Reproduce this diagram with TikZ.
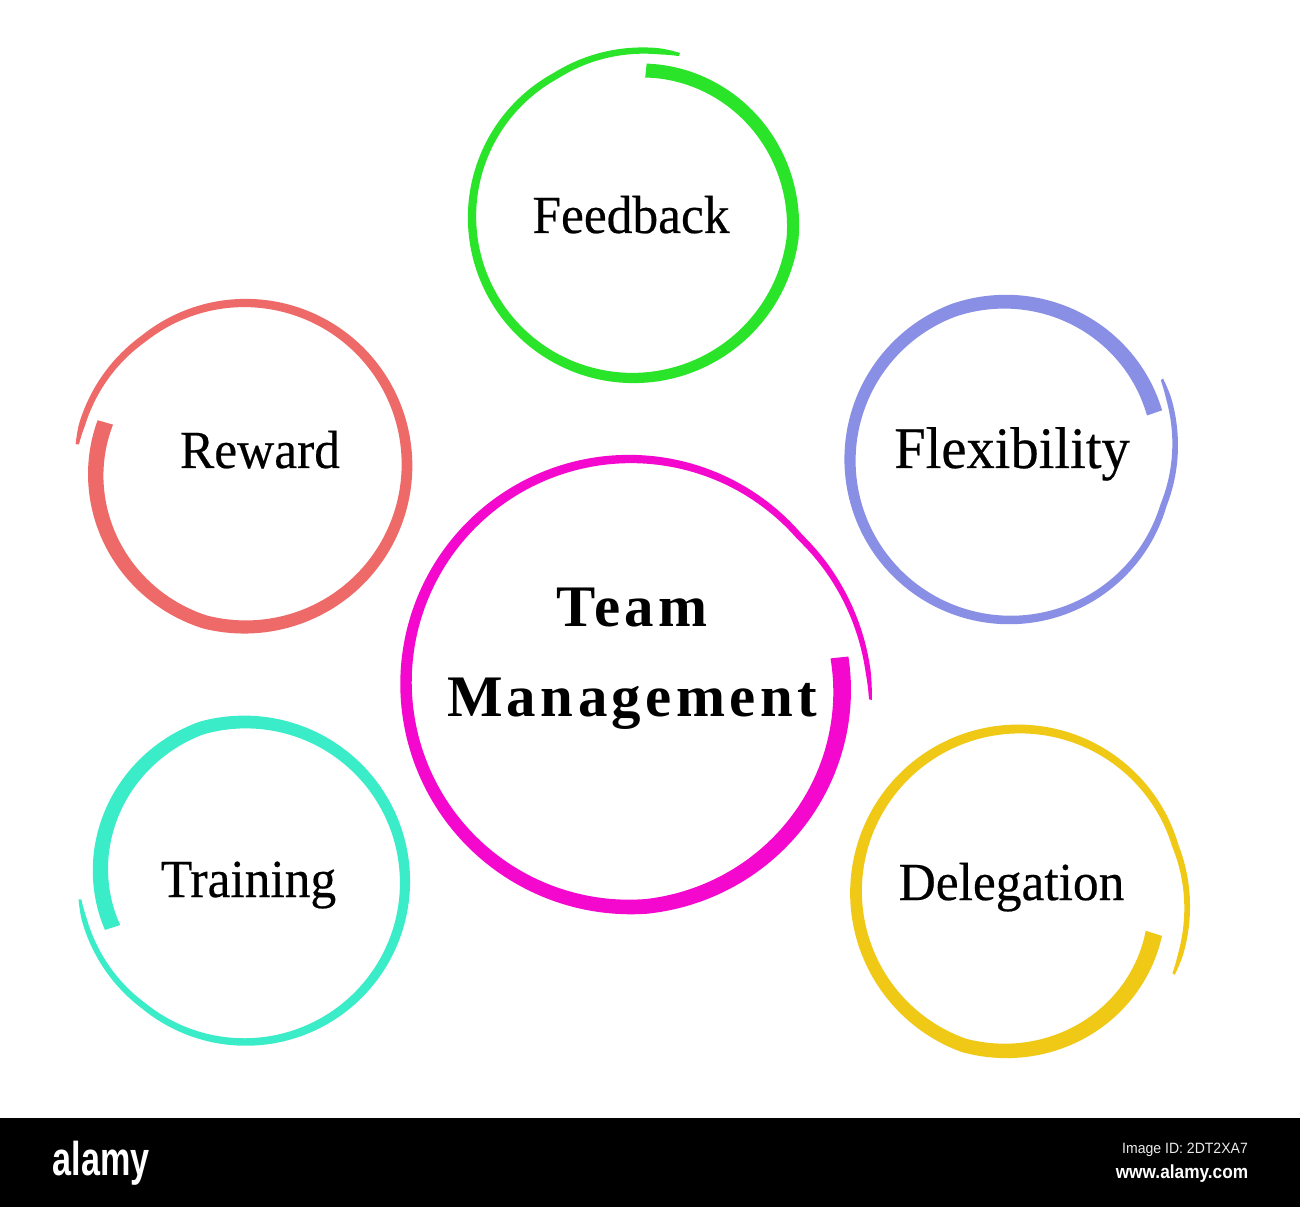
\documentclass[tikz,border=0pt]{standalone}
\usepackage{fontspec}
\setmainfont{Liberation Serif}
\newfontfamily\labfont[FakeStretch=0.96,FakeBold=0.4]{Liberation Serif}
\newfontfamily\tmfont[LetterSpace=7.5]{Liberation Serif}
\newfontfamily\wmfont{Liberation Sans}
\definecolor{cgreen}{RGB}{42,228,42}
\definecolor{csalmon}{RGB}{238,106,104}
\definecolor{cblue}{RGB}{136,143,228}
\definecolor{cmagenta}{RGB}{245,8,205}
\definecolor{ccyan}{RGB}{58,236,200}
\definecolor{cyellow}{RGB}{240,200,22}
\definecolor{wmgrey}{RGB}{235,235,235}
% brush ring: color, start angle, end angle, radius, start offset, end offset, start width, end width
\newcommand{\brushring}[8]{%
  \begin{scope}[declare function={%
      ang(\q)=#2+(#3-(#2))*\q;
      rr(\q)=#4+#5*max(0,1-\q/0.12)-#6*max(0,(\q-0.75)/0.25);
      ww(\q)=(#7+(#8-#7)*\q)*min(1,0.55+\q/0.04);}]
    \fill[#1] plot[domain=0:1,samples=241]
      ({(rr(\x)+ww(\x)/2)*cos(ang(\x))},{(rr(\x)+ww(\x)/2)*sin(ang(\x))})
      -- plot[domain=0:1,samples=241]
      ({(rr(1-\x)-ww(1-\x)/2)*cos(ang(1-\x))},{(rr(1-\x)-ww(1-\x)/2)*sin(ang(1-\x))})
      -- cycle;
  \end{scope}}
\tikzset{
  lab/.style={anchor=base,inner sep=0pt,text=black,font=\labfont\fontsize{30.5}{36}\selectfont},
  title/.style={anchor=base,inner sep=0pt,text=black,font=\tmfont\bfseries\fontsize{33.5}{40}\selectfont},
}
\begin{document}
\begin{tikzpicture}[x=0.02cm,y=0.02cm]
\useasboundingbox (0,0) rectangle (1300,1207);
\fill[white] (0,0) rectangle (1300,1207);

% rings
\begin{scope}[shift={(633,990)}]
  \brushring{cgreen}{74}{445}{161}{8}{14}{6}{14}
\end{scope}
\begin{scope}[shift={(245,742)}]
  \brushring{csalmon}{173}{-197}{162}{7}{16}{6}{16}
\end{scope}
\begin{scope}[shift={(1010,747)}]
  \brushring{cblue}{28}{-342}{160}{12}{8}{5}{16}
\end{scope}
\begin{scope}[shift={(630,524)}]
  \brushring{cmagenta}{-4}{367}{224}{17}{13}{5}{18}
\end{scope}
\begin{scope}[shift={(245,325)}]
  \brushring{ccyan}{186}{559}{160}{6}{20}{5}{16}
\end{scope}
\begin{scope}[shift={(1019,315)}]
  \brushring{cyellow}{-28}{343}{163}{12}{22}{5}{17}
\end{scope}

% labels
\node[lab] (feedback) at (631,974) {Feedback};
\node[lab] (reward) at (260,739) {Reward};
\node[lab,font=\labfont\fontsize{33.5}{38}\selectfont] (flex) at (1012,739) {Flexibility};
\node[lab] (training) at (248.5,310) {Training};
\node[lab] (delegation) at (1011.5,307) {Delegation};
\node[title] (team) at (632,580) {Team};
\node[title] (mgmt) at (632,490) {Management};

% watermark bar
\fill[black] (0,0) rectangle (1300,89);
\node[anchor=base,inner sep=0pt,text=white,font=\wmfont\bfseries\fontsize{27}{30}\selectfont] (alamy) at (101,32) {\scalebox{0.72}[1]{alamy}};
\node[anchor=base,inner sep=0pt,text=wmgrey,font=\wmfont\fontsize{8.5}{10}\selectfont] (imgid) at (1185,54) {\scalebox{0.94}[1]{Image ID: 2DT2XA7}};
\node[anchor=base,inner sep=0pt,text=white,font=\wmfont\bfseries\fontsize{10.8}{13}\selectfont] (www) at (1182,29) {\scalebox{0.91}[1]{www.alamy.com}};
\end{tikzpicture}
\end{document}
